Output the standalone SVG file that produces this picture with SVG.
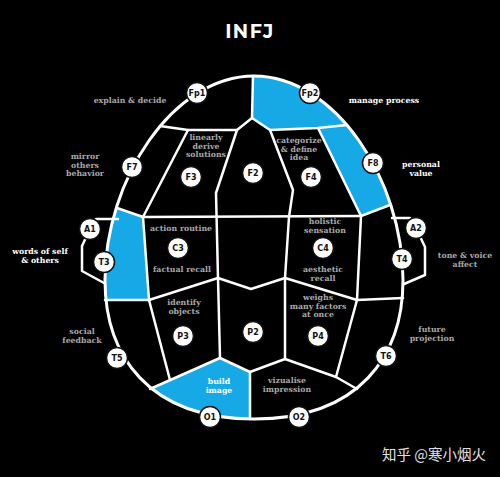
<svg xmlns="http://www.w3.org/2000/svg" width="500" height="477" viewBox="0 0 500 477">
<defs>
<clipPath id="head"><path d="M254,76 C335,76 403,180 403,280 C403,355 360,419 254,419 C148,419 105,355 105,280 C105,180 173,76 254,76 Z"/></clipPath>
<style>
.ln{fill:none;stroke:#fff;stroke-width:2.5;stroke-linejoin:round;stroke-linecap:round}
.outer{fill:none;stroke:#fff;stroke-width:3}
.blue{fill:#17a8e6}
.nd circle{fill:#fff;stroke:#111;stroke-width:1.5}
.nd text{font-family:"DejaVu Sans","Liberation Sans",sans-serif;font-weight:bold;font-size:8px;fill:#111;text-anchor:middle}
.lb{font-family:"DejaVu Serif","Liberation Serif",serif;font-weight:bold;font-size:7.8px;fill:#a8a8a8;text-anchor:middle}
.wh{fill:#fff}
</style>
</defs>
<rect width="500" height="477" fill="#000"/>
<text x="250" y="38" font-family="Montserrat,'DejaVu Sans','Liberation Sans',sans-serif" font-weight="bold" font-size="19" fill="#fff" text-anchor="middle" letter-spacing="1.5">INFJ</text>

<g id="regions" clip-path="url(#head)">
<polygon class="blue" points="253,60 430,60 430,117 347,125 318,128 270,130 252,118"/>
<polygon class="blue" points="318,128 347,125 430,117 430,190 390,205 361,216"/>
<polygon class="blue" points="143,217 149,300 60,300 60,195 118,208"/>
<polygon class="blue" points="220,358 250,372 250,440 90,440 90,415 150,389"/>
</g>

<g id="connectors">
<path class="outer" d="M254,76 C335,76 403,180 403,280 C403,355 360,419 254,419 C148,419 105,355 105,280 C105,180 173,76 254,76 Z"/>
<path class="ln" d="M253,76 L252,118 L237,130 L216,193 L218,278"/>
<path class="ln" d="M252,118 L270,130 L293,190 L289,217 L285,278"/>
<path class="ln" d="M160,126 L188,130 L237,130"/>
<path class="ln" d="M188,130 L143,217"/>
<path class="ln" d="M270,130 L318,128 L347,125"/>
<path class="ln" d="M318,128 L361,216 L390,205"/>
<path class="ln" d="M117,208 L143,217 L361,216"/>
<path class="ln" d="M143,217 L149,300"/>
<path class="ln" d="M105,300 L149,300 L218,278 L251,289 L285,278 L357,300 L403,298"/>
<path class="ln" d="M361,216 L357,300 L336,377"/>
<path class="ln" d="M218,278 L220,358"/>
<path class="ln" d="M285,278 L285,359"/>
<path class="ln" d="M149,300 L170,380"/>
<path class="ln" d="M150,389 L220,358 L250,372 L285,359 L336,377 L357,389"/>
<path class="ln" d="M250,372 L250,419"/>
<path class="ln" d="M118,219 L96,219 L90,229 M90,229 L82,246 L82,271 L104,283"/>
<path class="ln" d="M392,218 L410,218 L416,228 M416,228 L425,247 L425,275 L404,284"/>
</g>

<g id="Fp1" class="nd"><circle cx="197" cy="93" r="10.5"/><text x="197" y="96">Fp1</text></g>
<g id="Fp2" class="nd"><circle cx="310" cy="93" r="10.5"/><text x="310" y="96">Fp2</text></g>
<g id="F7" class="nd"><circle cx="132" cy="167" r="10.5"/><text x="132" y="170">F7</text></g>
<g id="F8" class="nd"><circle cx="373" cy="163" r="10.5"/><text x="373" y="166">F8</text></g>
<g id="F3" class="nd"><circle cx="191" cy="177" r="10.5"/><text x="191" y="180">F3</text></g>
<g id="F2" class="nd"><circle cx="253" cy="173" r="10.5"/><text x="253" y="176">F2</text></g>
<g id="F4" class="nd"><circle cx="311" cy="177" r="10.5"/><text x="311" y="180">F4</text></g>
<g id="A1" class="nd"><circle cx="90" cy="229" r="10.5"/><text x="90" y="232">A1</text></g>
<g id="A2" class="nd"><circle cx="416" cy="228" r="10.5"/><text x="416" y="231">A2</text></g>
<g id="T3" class="nd"><circle cx="104" cy="262" r="10.5"/><text x="104" y="265">T3</text></g>
<g id="T4" class="nd"><circle cx="402" cy="259" r="10.5"/><text x="402" y="262">T4</text></g>
<g id="C3" class="nd"><circle cx="178" cy="248" r="10.5"/><text x="178" y="251">C3</text></g>
<g id="C4" class="nd"><circle cx="323" cy="248" r="10.5"/><text x="323" y="251">C4</text></g>
<g id="P3" class="nd"><circle cx="183" cy="336" r="10.5"/><text x="183" y="339">P3</text></g>
<g id="P2" class="nd"><circle cx="253" cy="332" r="10.5"/><text x="253" y="335">P2</text></g>
<g id="P4" class="nd"><circle cx="318" cy="336" r="10.5"/><text x="318" y="339">P4</text></g>
<g id="T5" class="nd"><circle cx="117" cy="358" r="10.5"/><text x="117" y="361">T5</text></g>
<g id="T6" class="nd"><circle cx="386" cy="356" r="10.5"/><text x="386" y="359">T6</text></g>
<g id="O1" class="nd"><circle cx="210" cy="417" r="10.5"/><text x="210" y="420">O1</text></g>
<g id="O2" class="nd"><circle cx="299" cy="417" r="10.5"/><text x="299" y="420">O2</text></g>

<g id="labels">
<text class="lb" x="130" y="103">explain &amp; decide</text>
<text class="lb wh" x="384" y="103">manage process</text>
<text class="lb" x="85" y="159">mirror<tspan x="85" dy="8.5">others</tspan><tspan x="85" dy="8.5">behavior</tspan></text>
<text class="lb wh" x="421" y="167">personal<tspan x="421" dy="8.5">value</tspan></text>
<text class="lb" x="206" y="140">linearly<tspan x="206" dy="8.5">derive</tspan><tspan x="206" dy="8.5">solutions</tspan></text>
<text class="lb" x="299" y="143">categorize<tspan x="299" dy="8.5">&amp; define</tspan><tspan x="299" dy="8.5">idea</tspan></text>
<text class="lb" x="181" y="231">action routine</text>
<text class="lb" x="325" y="224">holistic<tspan x="325" dy="8.5">sensation</tspan></text>
<text class="lb" x="182" y="272">factual recall</text>
<text class="lb" x="323" y="272">aesthetic<tspan x="323" dy="8.5">recall</tspan></text>
<text class="lb wh" x="40" y="254">words of self<tspan x="40" dy="8.5">&amp; others</tspan></text>
<text class="lb" x="465" y="258">tone &amp; voice<tspan x="465" dy="8.5">affect</tspan></text>
<text class="lb" x="184" y="305">identify<tspan x="184" dy="8.5">objects</tspan></text>
<text class="lb" x="318" y="300">weighs<tspan x="318" dy="8.5">many factors</tspan><tspan x="318" dy="8.5">at once</tspan></text>
<text class="lb" x="82" y="334">social<tspan x="82" dy="8.5">feedback</tspan></text>
<text class="lb" x="432" y="332">future<tspan x="432" dy="8.5">projection</tspan></text>
<text class="lb wh" x="219" y="384">build<tspan x="219" dy="8.5">image</tspan></text>
<text class="lb" x="287" y="383">vizualise<tspan x="287" dy="8.5">impression</tspan></text>
</g>
<text x="434" y="460" font-family="'Noto Sans CJK SC',sans-serif" font-size="14.5" fill="#e0e0e0" text-anchor="middle">知乎 @寒小烟火</text>
</svg>
